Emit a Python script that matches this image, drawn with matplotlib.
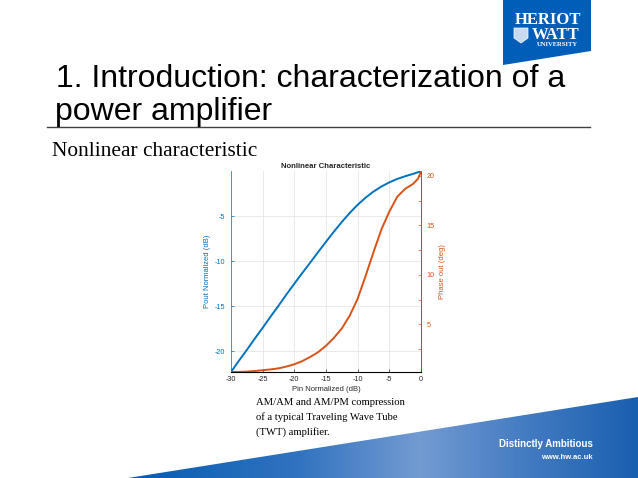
import numpy as np
import matplotlib
matplotlib.use("Agg")
import matplotlib.pyplot as plt
from matplotlib.patches import Polygon

plt.rcParams["axes.unicode_minus"] = False

# values
pin = [-30, -28.75, -27.5, -26.25, -25, -23.75, -22.5, -21.25, -20, -18.75,
       -17.5, -16.25, -15, -13.75, -12.5, -11.25, -10, -8.75, -7.5, -6.25,
       -5, -3.75, -2.5, -1.25, -0.5, 0]
pout = [-22.3, -21.05, -19.85, -18.6, -17.4, -16.15, -14.95, -13.7, -12.5, -11.32,
        -10.17, -9.0, -7.85, -6.73, -5.65, -4.65, -3.75, -2.96, -2.28, -1.72,
        -1.26, -0.88, -0.58, -0.32, -0.14, -0.05]
phase = [0.2, 0.21, 0.24, 0.3, 0.38, 0.46, 0.57, 0.75, 0.98, 1.3,
         1.72, 2.2, 2.85, 3.65, 4.6, 5.9, 7.6, 9.9, 12.3, 14.6,
         16.4, 17.9, 18.7, 19.2, 19.7, 20.4]

xticks = [-30, -25, -20, -15, -10, -5, 0]
left_ticks = [-20, -15, -10, -5]
right_ticks = [5, 10, 15, 20]

W, H = 638, 478
blue = "#0072BD"
orange = "#D95319"


def fx(x):
    return x / W


def fy(y):
    return 1 - y / H


fig = plt.figure(figsize=(6.38, 4.78), dpi=100)

# slide background drawn in pixel coords
bg = fig.add_axes([0, 0, 1, 1])
bg.set_xlim(0, W)
bg.set_ylim(H, 0)
bg.axis("off")
bg.set_zorder(0)

# logo
bg.add_patch(Polygon([(503, 0), (591, 0), (591, 51), (503, 65)],
                     closed=True, color="#005eb8", lw=0))
bg.add_patch(Polygon([(514, 28), (528, 28), (528, 38), (521, 43), (514, 38)],
                     closed=True, facecolor="#c9d9ef", edgecolor="white", lw=0.5))
bg.text(548, 23.5, "HERIOT", color="white", fontsize=12, fontweight="bold",
        family="Liberation Serif", ha="center", va="baseline")
bg.text(556, 38.5, "WATT", color="white", fontsize=12, fontweight="bold",
        family="Liberation Serif", ha="center", va="baseline")
bg.text(557, 46, "UNIVERSITY", color="white", fontsize=4.8, fontweight="bold",
        family="Liberation Serif", ha="center", va="baseline")

# bottom wedge with gradient
wedge = Polygon([(128, 478), (638, 397), (638, 478)], closed=True,
                facecolor="none", edgecolor="none")
bg.add_patch(wedge)
stops_x = [128, 300, 420, 520, 638]
stops_c = np.array([[5, 92, 178], [50, 115, 192], [115, 155, 210],
                    [70, 125, 195], [25, 95, 175]]) / 255.0
gx = np.linspace(128, 638, 300)
grad = np.stack([np.interp(gx, stops_x, stops_c[:, k]) for k in range(3)], axis=-1)
grad = np.repeat(grad[np.newaxis, :, :], 2, axis=0)
im = bg.imshow(grad, extent=[128, 638, 478, 395], aspect="auto", interpolation="bilinear")
im.set_clip_path(wedge)
bg.set_xlim(0, W)
bg.set_ylim(H, 0)

bg.text(593, 447, "Distinctly Ambitious", color="white", fontsize=7.0,
        fontweight="bold", family="Liberation Sans", ha="right", va="baseline")
bg.text(593, 459, "www.hw.ac.uk", color="white", fontsize=5.5,
        fontweight="bold", family="Liberation Sans", ha="right", va="baseline")

# slide titles
bg.text(56, 87, "1. Introduction: characterization of a", fontsize=23,
        family="Liberation Sans", ha="left", va="baseline", color="black")
bg.text(55, 120, "power amplifier", fontsize=23,
        family="Liberation Sans", ha="left", va="baseline", color="black")
bg.plot([47, 590], [127, 127], color="#404040", lw=1.0)
bg.text(52, 156, "Nonlinear characteristic", fontsize=15.4,
        family="Liberation Serif", ha="left", va="baseline", color="black")
bg.text(256, 398, "AM/AM and AM/PM compression\nof a typical Traveling Wave Tube\n(TWT) amplifier.",
        fontsize=7.7, family="Liberation Serif", ha="left", va="top",
        linespacing=1.65, color="black")

# chart
ax = fig.add_axes([fx(231), fy(372), fx(421) - fx(231), fy(171) - fy(372)])
ax.set_zorder(1)
ax.plot(pin, pout, color=blue, lw=1.4)
ax.set_xlim(-30, 0)
ax.set_ylim(-22.3, 0)
ax.set_xticks(xticks)
ax.set_yticks(left_ticks)
ax.grid(True, color="#e6e6e6", lw=0.6)
ax.tick_params(axis="x", direction="in", length=2.5, width=0.5, labelsize=5.2,
               colors="#262626", pad=3)
ax.tick_params(axis="y", direction="in", length=2.5, width=0.5, labelsize=5.2,
               colors=blue, pad=4)
ax.spines["left"].set_color(blue)
ax.spines["bottom"].set_color("#262626")
ax.spines["top"].set_visible(False)
for s in ["left", "bottom", "right"]:
    ax.spines[s].set_linewidth(0.5)
ax.set_xlabel("Pin Normalized (dB)", fontsize=5.5, color="#262626",
              family="Liberation Sans", labelpad=2)
ax.set_ylabel("Pout Normalized (dB)", fontsize=5.5, color=blue,
              family="Liberation Sans", labelpad=3)
ax.set_title("Nonlinear Characteristic", fontsize=5.6, fontweight="bold",
             family="Liberation Sans", color="#262626", pad=2.5)

ax2 = ax.twinx()
ax2.plot(pin, phase, color=orange, lw=1.4)
ax2.set_ylim(0.2, 20.5)
ax2.set_yticks(right_ticks)
ax2.set_yticks([2.5, 7.5, 12.5, 17.5], minor=True)
ax2.tick_params(axis="y", which="both", direction="in", length=2.5, width=0.5,
                labelsize=5.2, colors=orange, pad=4)
ax2.spines["right"].set_color(orange)
ax2.spines["right"].set_linewidth(0.5)
ax2.spines["top"].set_visible(False)
ax2.spines["left"].set_visible(False)
ax2.set_ylabel("Phase out (deg)", fontsize=5.5, color=orange,
               family="Liberation Sans", labelpad=3)

for a in (ax, ax2):
    for lab in a.get_xticklabels() + a.get_yticklabels():
        lab.set_family("Liberation Sans")

fig.savefig("out.png", dpi=100)
